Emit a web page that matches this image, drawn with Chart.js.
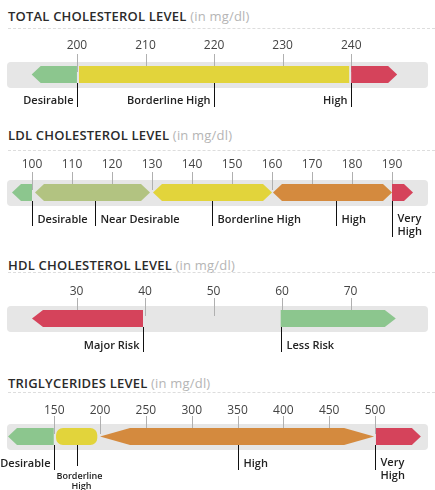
<!DOCTYPE html>
<html lang="en">
<head>
<meta charset="UTF-8">
<title>Cholesterol levels</title>
<script src="https://cdn.jsdelivr.net/npm/chart.js"></script>
<style>
  body { margin: 0; background: #fff; width: 435px; height: 490px; position: relative; overflow: hidden; font-family: "Open Sans", sans-serif; }
  .title { position: absolute; left: 8px; font-size: 13px; font-weight: 600; color: #2b2b2b; letter-spacing: 0.2px; line-height: 18px; white-space: nowrap; }
  .title span { color: #b5b5b5; font-weight: 400; }
  .dash { position: absolute; left: 8px; right: 0; border-top: 1px dashed #ddd; }
  .panel { position: absolute; left: 0; width: 435px; }
</style>
</head>
<body>
<script>
  // ---- data ----
  const titles = ['TOTAL CHOLESTEROL LEVEL', 'LDL CHOLESTEROL LEVEL', 'HDL CHOLESTEROL LEVEL', 'TRIGLYCERIDES  LEVEL'];

  const totalRange = [189.8, 251.2];
  const totalTicks = [200, 210, 220, 230, 240];
  const totalSegStart = [193.4, 200.3, 240];
  const totalSegEnd = [200, 239.7, 246.7];
  const totalMarks = [200, 220, 240];
  const totalLabels = [['Desirable'], ['Borderline High'], ['High']];

  const ldlRange = [93.75, 199];
  const ldlTicks = [100, 110, 120, 130, 140, 150, 160, 170, 180, 190];
  const ldlSegStart = [95, 100.75, 130.25, 160.25, 190];
  const ldlSegEnd = [100, 129.5, 160, 190, 195.25];
  const ldlMarks = [100, 115.75, 145, 176, 190];
  const ldlLabels = [['Desirable'], ['Near Desirable'], ['Borderline High'], ['High'], ['Very', 'High']];

  const hdlRange = [19.85, 81.3];
  const hdlTicks = [30, 40, 50, 60, 70];
  const hdlSegStart = [23.5, 59.8];
  const hdlSegEnd = [39.7, 76.6];
  const hdlMarks = [39.7, 59.8];
  const hdlLabels = [['Major Risk'], ['Less Risk']];

  const trigRange = [98.5, 557.8];
  const trigTicks = [150, 200, 250, 300, 350, 400, 450, 500];
  const trigSegStart = [99.6, 152, 200, 501];
  const trigSegEnd = [149.5, 197, 499, 550];
  const trigMarks = [149.5, 175, 350, 500];
  const trigLabels = [['Desirable'], ['Borderline', 'High'], ['High'], ['Very', 'High']];

  // ---- styles / layout ----
  const GREEN = '#8cc68e', YELLOW = '#e2d43b', RED = '#d5435b', SAGE = '#b2c381', ORANGE = '#d48a3e';
  const panels = [
    { top: 7, dash: 28, canvasTop: 38, h: 80, bandTop: 24, range: totalRange, ticks: totalTicks,
      segStart: totalSegStart, segEnd: totalSegEnd, colors: [GREEN, YELLOW, RED], shapes: ['left', 'rect', 'right'], taper: 9,
      marks: totalMarks, labels: totalLabels, sides: ['left', 'left', 'left'], lineEnd: [69, 69, 69] },
    { top: 126, dash: 150, canvasTop: 157, h: 85, bandTop: 23, range: ldlRange, ticks: ldlTicks,
      segStart: ldlSegStart, segEnd: ldlSegEnd, colors: [GREEN, SAGE, YELLOW, ORANGE, RED], shapes: ['left', 'hex', 'hex', 'hex', 'right'], taper: 9,
      marks: ldlMarks, labels: ldlLabels, sides: ['right', 'right', 'right', 'right', 'right'], lineEnd: [69, 69, 69, 69, 80] },
    { top: 256, dash: 272, canvasTop: 284, h: 70, bandTop: 22, range: hdlRange, ticks: hdlTicks,
      segStart: hdlSegStart, segEnd: hdlSegEnd, colors: [RED, GREEN], shapes: ['left', 'right'], taper: 11,
      marks: hdlMarks, labels: hdlLabels, sides: ['left', 'right'], lineEnd: [68, 68] },
    { top: 374, dash: 392, canvasTop: 403, h: 87, bandTop: 21, range: trigRange, ticks: trigTicks,
      segStart: trigSegStart, segEnd: trigSegEnd, colors: [GREEN, YELLOW, ORANGE, RED], shapes: ['left', 'round', 'hexlong', 'right'], taper: 9,
      marks: trigMarks, labels: trigLabels, sides: ['left', 'center', 'right', 'right'], lineEnd: [67, 63, 67, 67] }
  ];

  function shapePath(ctx, x1, x2, y1, y2, shape, taper) {
    const ym = (y1 + y2) / 2;
    ctx.beginPath();
    if (shape === 'left') {
      ctx.moveTo(x1, ym); ctx.lineTo(x1 + taper, y1); ctx.lineTo(x2, y1); ctx.lineTo(x2, y2); ctx.lineTo(x1 + taper, y2);
    } else if (shape === 'right') {
      ctx.moveTo(x1, y1); ctx.lineTo(x2 - taper, y1); ctx.lineTo(x2, ym); ctx.lineTo(x2 - taper, y2); ctx.lineTo(x1, y2);
    } else if (shape === 'hex' || shape === 'hexlong') {
      const t = shape === 'hexlong' ? 30 : taper;
      ctx.moveTo(x1, ym); ctx.lineTo(x1 + t, y1); ctx.lineTo(x2 - t, y1); ctx.lineTo(x2, ym); ctx.lineTo(x2 - t, y2); ctx.lineTo(x1 + t, y2);
    } else if (shape === 'round') {
      ctx.roundRect(x1, y1, x2 - x1, y2 - y1, 7);
    } else {
      ctx.rect(x1, y1, x2 - x1, y2 - y1);
    }
    ctx.closePath();
  }

  const bandPlugin = {
    id: 'band',
    beforeDatasetsDraw(chart, args, p) {
      const ctx = chart.ctx, x = chart.scales.x;
      const bt = p.bandTop, bb = bt + 26;
      ctx.save();
      ctx.fillStyle = '#e6e6e6';
      ctx.beginPath();
      ctx.roundRect(x.left, bt, x.right - x.left, bb - bt, 4);
      ctx.fill();
      // tick marks
      ctx.strokeStyle = '#b0b0b0'; ctx.lineWidth = 1;
      p.ticks.forEach(v => {
        const px = Math.round(x.getPixelForValue(v)) + 0.5;
        ctx.beginPath(); ctx.moveTo(px, bt - 8); ctx.lineTo(px, bt + 10); ctx.stroke();
      });
      // segments
      p.segStart.forEach((s, i) => {
        ctx.fillStyle = p.colors[i];
        shapePath(ctx, x.getPixelForValue(s), x.getPixelForValue(p.segEnd[i]), bt + 4, bb - 5, p.shapes[i], p.taper);
        ctx.fill();
      });
      // annotations
      ctx.strokeStyle = '#111'; ctx.fillStyle = '#222';
      p.marks.forEach((m, i) => {
        const px = Math.round(x.getPixelForValue(m)) + 0.5;
        const end = p.lineEnd[i];
        ctx.beginPath(); ctx.moveTo(px, bb - 5); ctx.lineTo(px, end); ctx.stroke();
        const lines = p.labels[i];
        if (p.sides[i] === 'center') {
          ctx.font = '600 9px "Open Sans"'; ctx.textAlign = 'center'; ctx.textBaseline = 'middle';
          ctx.fillText(lines[0], px + 2, end + 10);
          ctx.fillText(lines[1], px + 4, end + 20);
        } else {
          ctx.font = '600 11px "Open Sans"'; ctx.textBaseline = 'middle';
          ctx.textAlign = p.sides[i] === 'left' ? 'right' : 'left';
          const tx = p.sides[i] === 'left' ? px - 4 : px + 5;
          const y0 = lines.length > 1 ? bb + 13 : end - 6;
          lines.forEach((t, k) => ctx.fillText(t, tx, y0 + k * 13));
        }
      });
      ctx.restore();
    }
  };

  panels.forEach((p, idx) => {
    const t = document.createElement('div');
    t.className = 'title'; t.style.top = p.top + 'px';
    t.innerHTML = titles[idx] + ' <span>(in mg/dl)</span>';
    document.body.appendChild(t);
    const d = document.createElement('div');
    d.className = 'dash'; d.style.top = p.dash + 'px';
    document.body.appendChild(d);
    const wrap = document.createElement('div');
    wrap.className = 'panel'; wrap.style.top = p.canvasTop + 'px'; wrap.style.height = p.h + 'px';
    const cv = document.createElement('canvas');
    wrap.appendChild(cv);
    document.body.appendChild(wrap);

    new Chart(cv, {
      type: 'bar',
      data: { labels: [''], datasets: [{ data: [], backgroundColor: 'transparent' }] },
      options: {
        responsive: true, maintainAspectRatio: false, animation: false,
        layout: { padding: { left: 7, right: 7, top: 0, bottom: 0 } },
        plugins: { legend: { display: false }, tooltip: { enabled: false }, band: p },
        scales: {
          x: {
            type: 'linear', position: 'top', min: p.range[0], max: p.range[1], offset: false,
            afterBuildTicks: s => { s.ticks = p.ticks.map(v => ({ value: v })); },
            grid: { display: false }, border: { display: false },
            ticks: { color: '#444', font: { family: 'Open Sans', size: 12 }, padding: 0, maxRotation: 0, autoSkip: false }
          },
          y: { display: false }
        }
      },
      plugins: [bandPlugin]
    });
  });
</script>
</body>
</html>
